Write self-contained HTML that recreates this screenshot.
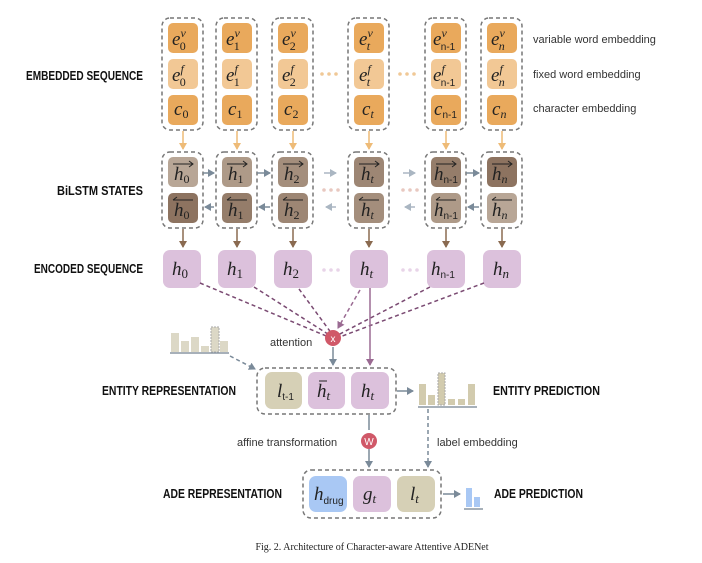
<!DOCTYPE html>
<html><head><meta charset="utf-8"><style>
body{margin:0;background:#fff}
svg{display:block}
.lb{font-family:"Liberation Sans",sans-serif;font-weight:bold;font-size:13px;fill:#111}
.sm{font-family:"Liberation Sans",sans-serif;font-size:11px;fill:#333}
.m{font-family:"Liberation Serif",serif;font-style:italic;font-size:19px;fill:#222}
.sub{font-family:"Liberation Sans",sans-serif;font-size:10px;fill:#222;font-style:normal}
</style></head><body>
<svg width="702" height="563" viewBox="0 0 702 563" xmlns="http://www.w3.org/2000/svg">
<defs>
<marker id="ao" markerWidth="8" markerHeight="8" refX="6" refY="4" orient="auto" markerUnits="userSpaceOnUse"><path d="M0,0L7,4L0,8z" fill="#eebb77"/></marker>
<marker id="ab" markerWidth="8" markerHeight="8" refX="6" refY="4" orient="auto" markerUnits="userSpaceOnUse"><path d="M0,0L7,4L0,8z" fill="#8a6a50"/></marker>
<marker id="ag" markerWidth="8" markerHeight="8" refX="6" refY="4" orient="auto" markerUnits="userSpaceOnUse"><path d="M0,0L7,4L0,8z" fill="#7a8a99"/></marker>
<marker id="agl" markerWidth="8" markerHeight="8" refX="6" refY="4" orient="auto" markerUnits="userSpaceOnUse"><path d="M0,0L7,4L0,8z" fill="#aab6c2"/></marker>
<marker id="ap" markerWidth="8" markerHeight="8" refX="6" refY="4" orient="auto" markerUnits="userSpaceOnUse"><path d="M0,0L7,4L0,8z" fill="#9a6a92"/></marker>
</defs>

<g class="lb">
<text x="26" y="80" textLength="117" lengthAdjust="spacingAndGlyphs">EMBEDDED SEQUENCE</text>
<text x="57" y="195" textLength="86" lengthAdjust="spacingAndGlyphs">BiLSTM STATES</text>
<text x="34" y="273" textLength="109" lengthAdjust="spacingAndGlyphs">ENCODED SEQUENCE</text>
<text x="102" y="395" textLength="134" lengthAdjust="spacingAndGlyphs">ENTITY REPRESENTATION</text>
<text x="163" y="498" textLength="119" lengthAdjust="spacingAndGlyphs">ADE REPRESENTATION</text>
<text x="493" y="395" textLength="107" lengthAdjust="spacingAndGlyphs">ENTITY PREDICTION</text>
<text x="494" y="498" textLength="89" lengthAdjust="spacingAndGlyphs">ADE PREDICTION</text>
</g>

<text class="sm" x="533" y="43">variable word embedding</text>
<text class="sm" x="533" y="78">fixed word embedding</text>
<text class="sm" x="533" y="112">character embedding</text>

<g fill="none" stroke="#777" stroke-width="1.5" stroke-dasharray="4,3">
<rect x="162" y="18" width="41" height="112" rx="8"/>
<rect x="216" y="18" width="41" height="112" rx="8"/>
<rect x="272" y="18" width="41" height="112" rx="8"/>
<rect x="348" y="18" width="41" height="112" rx="8"/>
<rect x="425" y="18" width="41" height="112" rx="8"/>
<rect x="481" y="18" width="41" height="112" rx="8"/>
<rect x="162" y="152" width="41" height="76" rx="8"/>
<rect x="216" y="152" width="41" height="76" rx="8"/>
<rect x="272" y="152" width="41" height="76" rx="8"/>
<rect x="348" y="152" width="41" height="76" rx="8"/>
<rect x="425" y="152" width="41" height="76" rx="8"/>
<rect x="481" y="152" width="41" height="76" rx="8"/>
<rect x="257" y="368" width="139" height="46" rx="8"/>
<rect x="303" y="470" width="138" height="48" rx="8"/>
</g>

<g>
<rect x="168" y="23" width="30" height="30" rx="5" fill="#e9a95c"/><rect x="168" y="59" width="30" height="30" rx="5" fill="#f2c895"/><rect x="168" y="95" width="30" height="30" rx="5" fill="#e9a95c"/>
<rect x="222" y="23" width="30" height="30" rx="5" fill="#e9a95c"/><rect x="222" y="59" width="30" height="30" rx="5" fill="#f2c895"/><rect x="222" y="95" width="30" height="30" rx="5" fill="#e9a95c"/>
<rect x="278" y="23" width="30" height="30" rx="5" fill="#e9a95c"/><rect x="278" y="59" width="30" height="30" rx="5" fill="#f2c895"/><rect x="278" y="95" width="30" height="30" rx="5" fill="#e9a95c"/>
<rect x="354" y="23" width="30" height="30" rx="5" fill="#e9a95c"/><rect x="354" y="59" width="30" height="30" rx="5" fill="#f2c895"/><rect x="354" y="95" width="30" height="30" rx="5" fill="#e9a95c"/>
<rect x="431" y="23" width="30" height="30" rx="5" fill="#e9a95c"/><rect x="431" y="59" width="30" height="30" rx="5" fill="#f2c895"/><rect x="431" y="95" width="30" height="30" rx="5" fill="#e9a95c"/>
<rect x="487" y="23" width="30" height="30" rx="5" fill="#e9a95c"/><rect x="487" y="59" width="30" height="30" rx="5" fill="#f2c895"/><rect x="487" y="95" width="30" height="30" rx="5" fill="#e9a95c"/>
</g>
<g class="m">
<text x="172" y="45">e<tspan font-size="12" dy="-8">v</tspan><tspan font-size="12" font-style="normal" dx="-6" dy="13">0</tspan></text>
<text x="226" y="45">e<tspan font-size="12" dy="-8">v</tspan><tspan font-size="12" font-style="normal" dx="-6" dy="13">1</tspan></text>
<text x="282" y="45">e<tspan font-size="12" dy="-8">v</tspan><tspan font-size="12" font-style="normal" dx="-6" dy="13">2</tspan></text>
<text x="359" y="45">e<tspan font-size="12" dy="-8">v</tspan><tspan font-size="12" dx="-6" dy="13">t</tspan></text>
<text x="433" y="45">e<tspan font-size="12" dy="-8">v</tspan><tspan class="sub" dx="-6" dy="13">n-1</tspan></text>
<text x="491" y="45">e<tspan font-size="12" dy="-8">v</tspan><tspan font-size="12" dx="-6" dy="13">n</tspan></text>
<text x="172" y="81">e<tspan font-size="12" dy="-8">f</tspan><tspan font-size="12" font-style="normal" dx="-4" dy="13">0</tspan></text>
<text x="226" y="81">e<tspan font-size="12" dy="-8">f</tspan><tspan font-size="12" font-style="normal" dx="-4" dy="13">1</tspan></text>
<text x="282" y="81">e<tspan font-size="12" dy="-8">f</tspan><tspan font-size="12" font-style="normal" dx="-4" dy="13">2</tspan></text>
<text x="359" y="81">e<tspan font-size="12" dy="-8">f</tspan><tspan font-size="12" dx="-4" dy="13">t</tspan></text>
<text x="433" y="81">e<tspan font-size="12" dy="-8">f</tspan><tspan class="sub" dx="-4" dy="13">n-1</tspan></text>
<text x="491" y="81">e<tspan font-size="12" dy="-8">f</tspan><tspan font-size="12" dx="-4" dy="13">n</tspan></text>
<text x="174" y="115">c<tspan font-size="12" font-style="normal" dy="3">0</tspan></text>
<text x="228" y="115">c<tspan font-size="12" font-style="normal" dy="3">1</tspan></text>
<text x="284" y="115">c<tspan font-size="12" font-style="normal" dy="3">2</tspan></text>
<text x="362" y="115">c<tspan font-size="12" dy="3">t</tspan></text>
<text x="434" y="115">c<tspan class="sub" dy="3">n-1</tspan></text>
<text x="492" y="115">c<tspan font-size="12" dy="3">n</tspan></text>
</g>
<g fill="#f0c896">
<circle cx="322" cy="74" r="1.8"/><circle cx="329" cy="74" r="1.8"/><circle cx="336" cy="74" r="1.8"/>
<circle cx="400" cy="74" r="1.8"/><circle cx="407" cy="74" r="1.8"/><circle cx="414" cy="74" r="1.8"/>
</g>
<g stroke="#eebb77" stroke-width="1.5" marker-end="url(#ao)">
<line x1="183" y1="131" x2="183" y2="149"/><line x1="237" y1="131" x2="237" y2="149"/><line x1="293" y1="131" x2="293" y2="149"/>
<line x1="369" y1="131" x2="369" y2="149"/><line x1="446" y1="131" x2="446" y2="149"/><line x1="502" y1="131" x2="502" y2="149"/>
</g>

<g>
<rect x="168" y="157" width="30" height="30" rx="5" fill="#b8a696"/><rect x="168" y="193" width="30" height="30" rx="5" fill="#8d7360"/>
<rect x="222" y="157" width="30" height="30" rx="5" fill="#ae9a88"/><rect x="222" y="193" width="30" height="30" rx="5" fill="#957d6a"/>
<rect x="278" y="157" width="30" height="30" rx="5" fill="#a48e7c"/><rect x="278" y="193" width="30" height="30" rx="5" fill="#9d8674"/>
<rect x="354" y="157" width="30" height="30" rx="5" fill="#9d8674"/><rect x="354" y="193" width="30" height="30" rx="5" fill="#a48e7c"/>
<rect x="431" y="157" width="30" height="30" rx="5" fill="#957d6a"/><rect x="431" y="193" width="30" height="30" rx="5" fill="#ae9a88"/>
<rect x="487" y="157" width="30" height="30" rx="5" fill="#8d7360"/><rect x="487" y="193" width="30" height="30" rx="5" fill="#b8a696"/>
</g>
<g class="m" font-size="18">
<text x="174" y="180">h<tspan font-size="12" font-style="normal" dy="3">0</tspan></text><text x="174" y="216">h<tspan font-size="12" font-style="normal" dy="3">0</tspan></text>
<text x="228" y="180">h<tspan font-size="12" font-style="normal" dy="3">1</tspan></text><text x="228" y="216">h<tspan font-size="12" font-style="normal" dy="3">1</tspan></text>
<text x="284" y="180">h<tspan font-size="12" font-style="normal" dy="3">2</tspan></text><text x="284" y="216">h<tspan font-size="12" font-style="normal" dy="3">2</tspan></text>
<text x="361" y="180">h<tspan font-size="12" dy="3">t</tspan></text><text x="361" y="216">h<tspan font-size="12" dy="3">t</tspan></text>
<text x="434" y="180">h<tspan class="sub" dy="3">n-1</tspan></text><text x="434" y="216">h<tspan class="sub" dy="3">n-1</tspan></text>
<text x="492" y="180">h<tspan font-size="12" dy="3">n</tspan></text><text x="492" y="216">h<tspan font-size="12" dy="3">n</tspan></text>
</g>
<g stroke="#222" stroke-width="1" fill="none">
<path d="M173,164h20m-4,-3l4,3l-4,3"/><path d="M227,164h20m-4,-3l4,3l-4,3"/><path d="M283,164h20m-4,-3l4,3l-4,3"/><path d="M359,164h20m-4,-3l4,3l-4,3"/><path d="M436,164h20m-4,-3l4,3l-4,3"/><path d="M492,164h20m-4,-3l4,3l-4,3"/>
<path d="M173,200h20m-16,-3l-4,3"/><path d="M227,200h20m-16,-3l-4,3"/><path d="M283,200h20m-16,-3l-4,3"/><path d="M359,200h20m-16,-3l-4,3"/><path d="M436,200h20m-16,-3l-4,3"/><path d="M492,200h20m-16,-3l-4,3"/>
</g>
<g stroke="#7a8a99" stroke-width="1.5">
<line x1="203" y1="173" x2="214" y2="173" marker-end="url(#ag)"/><line x1="257" y1="173" x2="270" y2="173" marker-end="url(#ag)"/><line x1="466" y1="173" x2="479" y2="173" marker-end="url(#ag)"/>
<line x1="214" y1="207" x2="205" y2="207" marker-end="url(#ag)"/><line x1="270" y1="207" x2="259" y2="207" marker-end="url(#ag)"/><line x1="479" y1="207" x2="468" y2="207" marker-end="url(#ag)"/>
</g>
<g stroke="#aab6c2" stroke-width="1.5">
<line x1="324" y1="173" x2="336" y2="173" marker-end="url(#agl)"/><line x1="403" y1="173" x2="415" y2="173" marker-end="url(#agl)"/>
<line x1="336" y1="207" x2="326" y2="207" marker-end="url(#agl)"/><line x1="415" y1="207" x2="405" y2="207" marker-end="url(#agl)"/>
</g>
<g fill="#e8c8c0">
<circle cx="324" cy="190" r="1.8"/><circle cx="331" cy="190" r="1.8"/><circle cx="338" cy="190" r="1.8"/>
<circle cx="403" cy="190" r="1.8"/><circle cx="410" cy="190" r="1.8"/><circle cx="417" cy="190" r="1.8"/>
</g>
<g stroke="#8a6a50" stroke-width="1.5" marker-end="url(#ab)">
<line x1="183" y1="229" x2="183" y2="247"/><line x1="237" y1="229" x2="237" y2="247"/><line x1="293" y1="229" x2="293" y2="247"/>
<line x1="369" y1="229" x2="369" y2="247"/><line x1="446" y1="229" x2="446" y2="247"/><line x1="502" y1="229" x2="502" y2="247"/>
</g>

<g fill="#dcc1dc">
<rect x="163" y="250" width="38" height="38" rx="7"/><rect x="218" y="250" width="38" height="38" rx="7"/><rect x="274" y="250" width="38" height="38" rx="7"/>
<rect x="350" y="250" width="38" height="38" rx="7"/><rect x="427" y="250" width="38" height="38" rx="7"/><rect x="483" y="250" width="38" height="38" rx="7"/>
</g>
<g class="m" font-size="20">
<text x="172" y="275">h<tspan font-size="13" font-style="normal" dy="3">0</tspan></text>
<text x="227" y="275">h<tspan font-size="13" font-style="normal" dy="3">1</tspan></text>
<text x="283" y="275">h<tspan font-size="13" font-style="normal" dy="3">2</tspan></text>
<text x="360" y="275">h<tspan font-size="13" dy="3">t</tspan></text>
<text x="431" y="275">h<tspan class="sub" font-size="11" dy="3">n-1</tspan></text>
<text x="493" y="275">h<tspan font-size="13" dy="3">n</tspan></text>
</g>
<g fill="#e8d4e8">
<circle cx="324" cy="270" r="1.8"/><circle cx="331" cy="270" r="1.8"/><circle cx="338" cy="270" r="1.8"/>
<circle cx="403" cy="270" r="1.8"/><circle cx="410" cy="270" r="1.8"/><circle cx="417" cy="270" r="1.8"/>
</g>

<g stroke="#7a4a72" stroke-width="1.5" stroke-dasharray="4,3" fill="none">
<line x1="200" y1="283" x2="331" y2="338"/><line x1="254" y1="287" x2="331" y2="336"/><line x1="299" y1="289" x2="332" y2="334"/>
<line x1="430" y1="287" x2="336" y2="336"/><line x1="484" y1="283" x2="337" y2="338"/>
</g>
<line x1="360" y1="290" x2="338" y2="328" stroke="#9a6a92" stroke-width="1.5" stroke-dasharray="4,3" marker-end="url(#ap)"/>
<line x1="370" y1="288" x2="370" y2="365" stroke="#9a6a92" stroke-width="1.5" marker-end="url(#ap)"/>
<circle cx="333" cy="338" r="8" fill="#d05868"/>
<text x="333" y="342" text-anchor="middle" font-family="Liberation Sans" font-size="10" fill="#fff">x</text>
<text class="sm" x="270" y="346">attention</text>
<line x1="333" y1="347" x2="333" y2="365" stroke="#7a8a99" stroke-width="1.5" marker-end="url(#ag)"/>

<g fill="#dcd8c6">
<rect x="171" y="333" width="8" height="19"/><rect x="181" y="341" width="8" height="11"/><rect x="191" y="337" width="8" height="15"/><rect x="201" y="346" width="8" height="6"/><rect x="211" y="327" width="8" height="25" stroke="#aaa" stroke-dasharray="2,1"/><rect x="220" y="341" width="8" height="11"/>
</g>
<line x1="170" y1="353" x2="229" y2="353" stroke="#8a96a2" stroke-width="1.5"/>
<line x1="230" y1="356" x2="255" y2="369" stroke="#7a8a99" stroke-width="1.5" stroke-dasharray="4,3" marker-end="url(#ag)"/>

<rect x="265" y="372" width="37" height="37" rx="7" fill="#d6d0b6"/>
<rect x="308" y="372" width="37" height="37" rx="7" fill="#dcc1dc"/>
<rect x="351" y="372" width="38" height="37" rx="7" fill="#dcc1dc"/>
<g class="m" font-size="20">
<text x="277" y="397">l<tspan class="sub" dy="3">t-1</tspan></text>
<text x="317" y="397">h<tspan font-size="13" dy="3">t</tspan></text>
<line x1="319" y1="381" x2="327" y2="381" stroke="#222" stroke-width="1"/>
<text x="361" y="397">h<tspan font-size="13" dy="3">t</tspan></text>
</g>
<line x1="397" y1="391" x2="413" y2="391" stroke="#7a8a99" stroke-width="1.5" marker-end="url(#ag)"/>
<g fill="#d2cbae">
<rect x="419" y="384" width="7" height="21"/><rect x="428" y="395" width="7" height="10"/><rect x="438" y="373" width="7" height="32" stroke="#aaa" stroke-dasharray="2,1"/><rect x="448" y="399" width="7" height="6"/><rect x="458" y="399" width="7" height="6"/><rect x="468" y="384" width="7" height="21"/>
</g>
<line x1="418" y1="407" x2="477" y2="407" stroke="#8a96a2" stroke-width="1.5"/>
<line x1="428" y1="409" x2="428" y2="467" stroke="#7a8a99" stroke-width="1.5" stroke-dasharray="4,3" marker-end="url(#ag)"/>
<text class="sm" x="437" y="446">label embedding</text>

<line x1="369" y1="415" x2="369" y2="430" stroke="#7a8a99" stroke-width="1.5"/>
<circle cx="369" cy="441" r="8" fill="#d05868"/>
<text x="369" y="445" text-anchor="middle" font-family="Liberation Sans" font-size="10" fill="#fff">W</text>
<text class="sm" x="237" y="446">affine transformation</text>
<line x1="369" y1="449" x2="369" y2="467" stroke="#7a8a99" stroke-width="1.5" marker-end="url(#ag)"/>

<rect x="309" y="476" width="38" height="36" rx="7" fill="#a9c8f4"/>
<rect x="353" y="476" width="38" height="36" rx="7" fill="#dcc1dc"/>
<rect x="397" y="476" width="38" height="36" rx="7" fill="#d6d0b6"/>
<g class="m" font-size="20">
<text x="314" y="500">h<tspan class="sub" dy="4">drug</tspan></text>
<text x="363" y="500">g<tspan font-size="13" dy="3">t</tspan></text>
<text x="410" y="500">l<tspan font-size="13" dy="3">t</tspan></text>
</g>
<line x1="443" y1="494" x2="460" y2="494" stroke="#7a8a99" stroke-width="1.5" marker-end="url(#ag)"/>
<rect x="466" y="488" width="6" height="19" fill="#a9c8f4"/><rect x="474" y="497" width="6" height="10" fill="#a9c8f4"/>
<line x1="464" y1="509" x2="483" y2="509" stroke="#8a96a2" stroke-width="1.5"/>

<text x="372" y="550" text-anchor="middle" font-family="Liberation Serif" font-size="10" fill="#222">Fig. 2.   Architecture of Character-aware Attentive ADENet</text>
</svg>
</body></html>
